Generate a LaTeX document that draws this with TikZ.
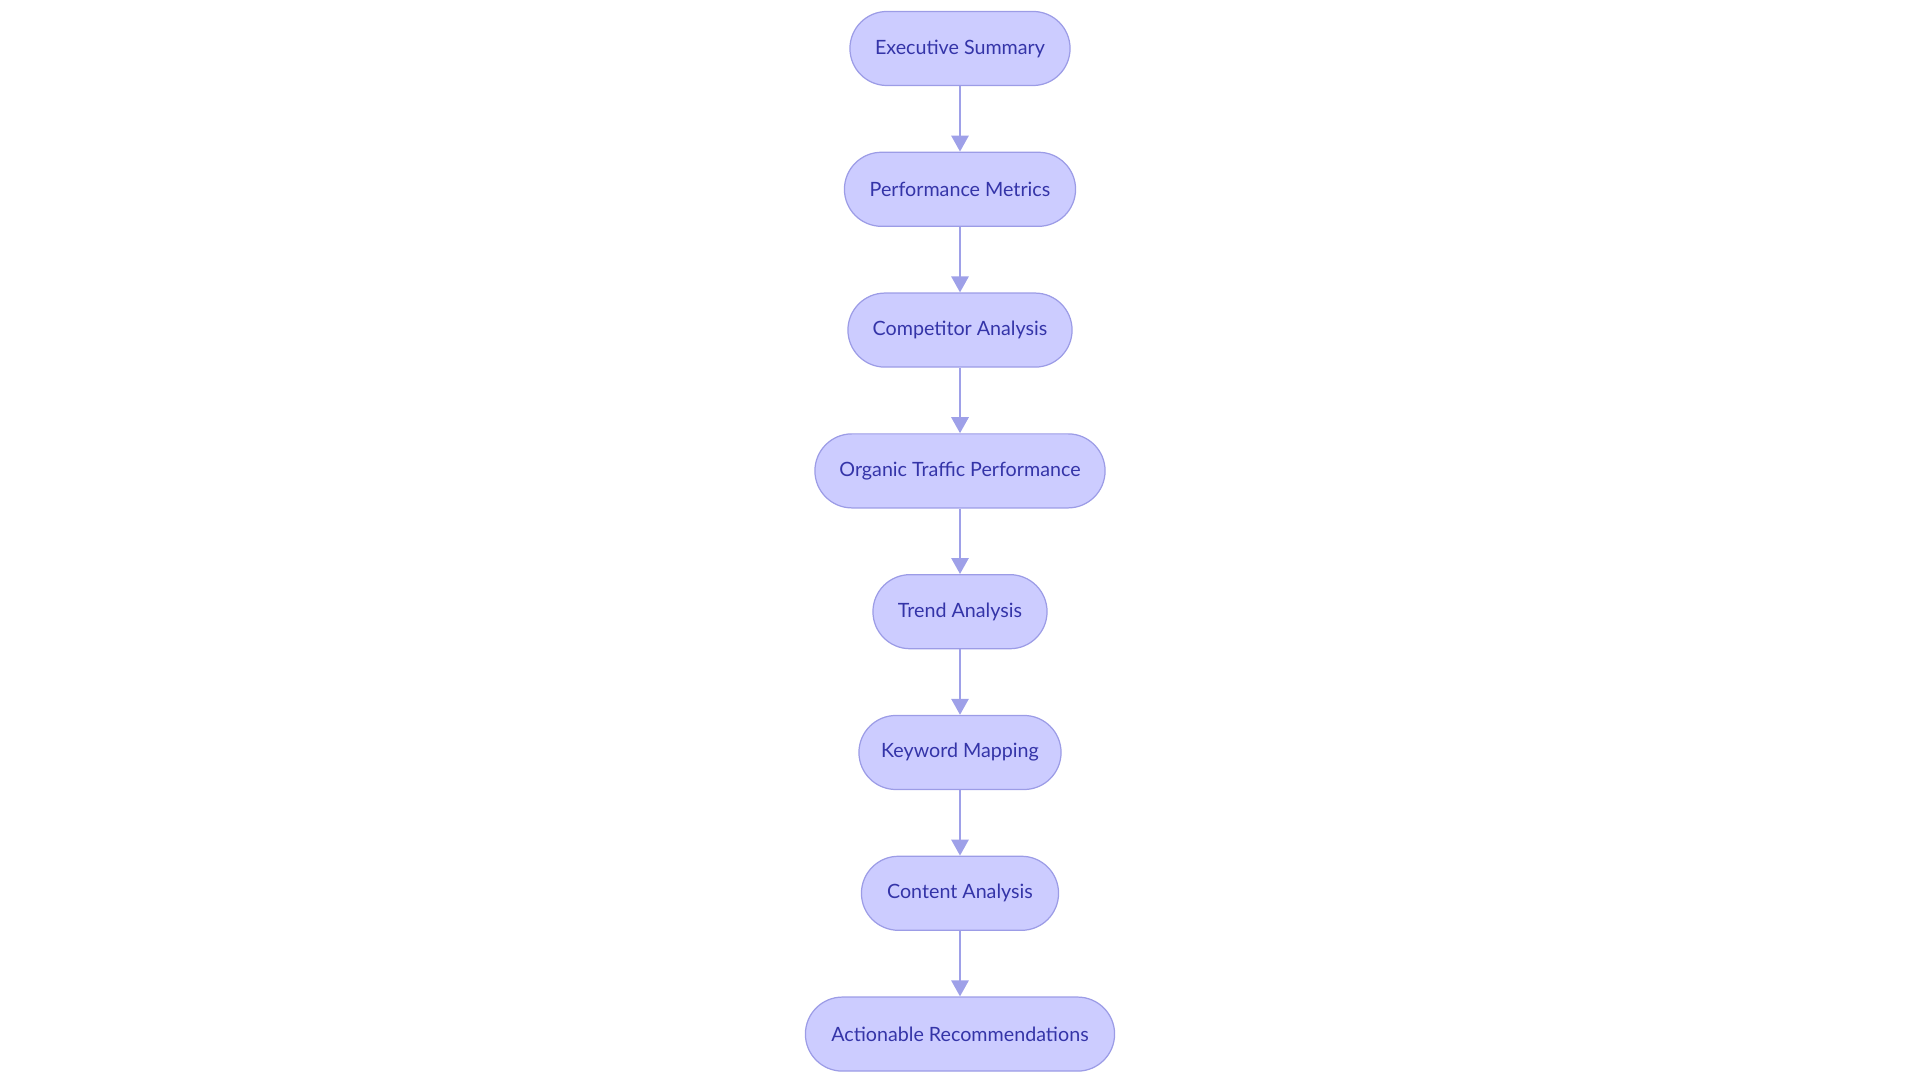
\documentclass[tikz,border=0pt]{standalone}
\usepackage{fontspec}
\setmainfont{Lato}
\usetikzlibrary{arrows.meta}
\definecolor{nfill}{HTML}{CCCCFF}
\definecolor{nline}{HTML}{9C9CE6}
\definecolor{ntext}{HTML}{3434A8}
\definecolor{aline}{HTML}{9EA0E8}
\tikzset{
  pill/.style={draw=nline, fill=nfill, line width=0.35pt, rounded corners=0.37cm,
    minimum height=0.74cm, inner sep=0pt, text=ntext, font=\fontsize{5.6}{7}\selectfont},
  conn/.style={draw=aline, line width=0.8pt, -{Triangle[length=0.16cm,width=0.17cm]}}
}
\begin{document}
\begin{tikzpicture}[x=0.01cm,y=-0.01cm]
\useasboundingbox (0,0) rectangle (1920,1080);
\node[pill, minimum width=2.20cm] (n1) at (960,48.5) {Executive Summary};
\node[pill, minimum width=2.31cm] (n2) at (960,189.3) {Performance Metrics};
\node[pill, minimum width=2.24cm] (n3) at (960,330.1) {Competitor Analysis};
\node[pill, minimum width=2.90cm] (n4) at (960,470.9) {Organic Traffic Performance};
\node[pill, minimum width=1.74cm] (n5) at (960,611.7) {Trend Analysis};
\node[pill, minimum width=2.02cm] (n6) at (960,752.5) {Keyword Mapping};
\node[pill, minimum width=1.97cm] (n7) at (960,893.3) {Content Analysis};
\node[pill, minimum width=3.09cm] (n8) at (960,1034.1) {Actionable Recommendations};
\foreach \a/\b in {n1/n2,n2/n3,n3/n4,n4/n5,n5/n6,n6/n7,n7/n8}
  \draw[conn] (\a) -- (\b);
\end{tikzpicture}
\end{document}
